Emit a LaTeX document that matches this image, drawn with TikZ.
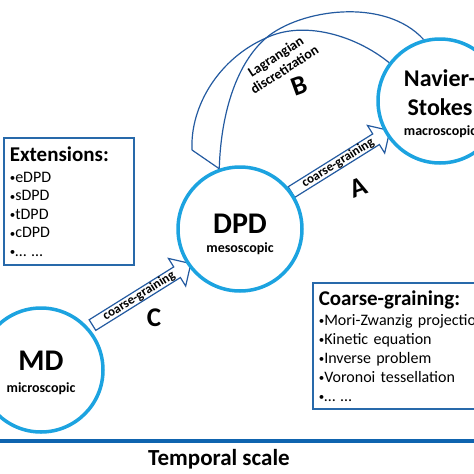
\documentclass[tikz,border=0pt]{standalone}
\usepackage{fontspec}
\setmainfont{Carlito}
\usepackage{tikz}
\usetikzlibrary{arrows.meta, positioning, calc, shapes.arrows}

\definecolor{ringblue}{RGB}{28,163,224}
\definecolor{boxblue}{RGB}{40,105,170}
\definecolor{arrowblue}{RGB}{35,90,160}
\definecolor{axisblue}{RGB}{15,100,175}

\newcommand{\dotitem}{\raisebox{0.6pt}{\fontsize{11}{11}\selectfont\textbullet}}

\begin{document}
\begin{tikzpicture}[
  x=1pt, y=-1pt,
  stage/.style     = {draw=ringblue, fill=white, circle, line width=3.5pt, minimum size=124pt, inner sep=0pt},
  levelname/.style = {anchor=base, font=\fontsize{30}{30}\selectfont\bfseries},
  levelnote/.style = {anchor=base, font=\fontsize{14}{14}\selectfont\bfseries},
  infobox/.style   = {draw=boxblue, line width=1.6pt, anchor=north west, inner xsep=6pt,
                      align=left, font=\fontsize{16}{18.5}\selectfont},
  flow/.style      = {single arrow, draw=arrowblue, fill=white, line width=1.2pt,
                      minimum height=116pt, single arrow head extend=10pt,
                      inner xsep=2pt, inner ysep=0pt, font=\fontsize{13}{13}\selectfont\bfseries},
  tag/.style       = {font=\fontsize{27}{27}\selectfont\bfseries},
  bandline/.style  = {draw=arrowblue, line width=1.2pt},
  axis/.style      = {draw=axisblue, line width=4pt}
]

  \useasboundingbox (0,0) rectangle (474,474);
  \clip (0,0) rectangle (474,474);

  % block arrows (under the circles)
  \node[flow, rotate=32] (arrC) at (139,296) {coarse-graining};
  \node[flow, rotate=32] (arrA) at (338,163) {coarse-graining};

  % MD
  \node[stage] (md) at (41,370) {};
  \node[levelname] (mdname) at (md.center) {MD};
  \node[levelnote] (mdnote) at ([yshift=-22pt]md.center) {microscopic};

  % DPD
  \node[stage] (dpd) at (240,229) {};
  \node[levelname] (dpdname) at ([yshift=-4pt]dpd.center) {DPD};
  \node[levelnote] (dpdnote) at ([yshift=-23pt]dpd.center) {mesoscopic};

  % Navier-Stokes
  \node[stage] (ns) at (440,101) {};
  \node[levelname, font=\fontsize{24}{24}\selectfont\bfseries] (nsname1) at ([yshift=15pt]ns.center) {Navier-};
  \node[levelname, font=\fontsize{24}{24}\selectfont\bfseries] (nsname2) at ([yshift=-14pt]ns.center) {Stokes};
  \node[levelnote] (nsnote) at ([yshift=-34pt]ns.center) {macroscopic};

  % curved band B: DPD <-> Navier-Stokes, the two edges cross once
  \coordinate (bwing) at (192,150);
  \coordinate (bcross) at (266,38);
  \draw[bandline] (bwing) -- (dpd.109);
  \draw[bandline] (bwing) .. controls (190,105) and (220,58) .. (bcross)
                          .. controls (303,20) and (355,35) .. (ns.143);
  \draw[bandline] (dpd.109) .. controls (221,110) and (238,62) .. (bcross)
                            .. controls (300,9) and (385,-3) .. (ns.105);
  \node[font=\fontsize{14}{16}\selectfont\bfseries, align=center, rotate=33] (bnote) at (280,63) {Lagrangian\\discretization};

  % letters
  \node[tag, rotate=20] (btag) at (299,86) {B};
  \node[tag, rotate=20] (atag) at (358,187) {A};
  \node[tag] (ctag) at (154,318) {C};

  % Extensions box
  \node[infobox, font=\fontsize{16}{18.5}\selectfont, minimum width=130pt, minimum height=127pt, text width=118pt] (ext) at (3,137) {
    {\fontsize{21}{18.5}\selectfont\bfseries Extensions:}\\[2.5pt]
    \dotitem eDPD\\
    \dotitem sDPD\\
    \dotitem tDPD\\
    \dotitem cDPD\\
    \dotitem… …
  };

  % Coarse-graining box
  \node[infobox, font=\fontsize{16}{19}\selectfont, minimum height=126pt, text width=200pt] (cg) at (312,282) {
    {\fontsize{21}{19}\selectfont\bfseries Coarse-graining:}\\[1pt]
    \dotitem Mori-Zwanzig projection\\
    \dotitem Kinetic equation\\
    \dotitem Inverse problem\\
    \dotitem Voronoi tessellation\\
    \dotitem… …
  };

  % temporal axis
  \coordinate (tstart) at (0,441);
  \coordinate (tend) at (474,441);
  \draw[axis] (tstart) -- (tend);
  \node[anchor=base, font=\fontsize{23}{23}\selectfont\bfseries] (tlabel) at (219,465) {Temporal scale};

\end{tikzpicture}
\end{document}
